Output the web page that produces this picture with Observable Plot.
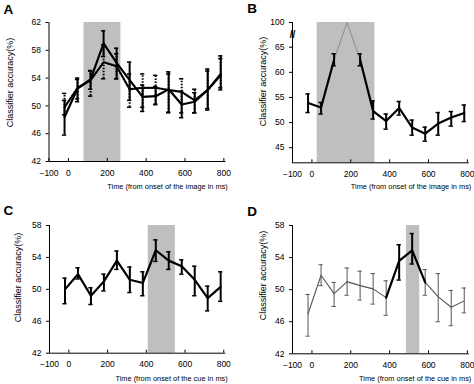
<!DOCTYPE html>
<html><head><meta charset="utf-8">
<script src="https://cdn.jsdelivr.net/npm/d3@7"></script>
<script src="https://cdn.jsdelivr.net/npm/@observablehq/plot@0.6"></script>
<style>
body{margin:0;background:#fff;}
#grid{display:grid;grid-template-columns:237px 237px;grid-template-rows:192px 192px;width:474px;height:384px;overflow:hidden;}
#grid svg{overflow:visible;display:block;}
</style></head><body><div id="grid"></div>
<script>
// time windows (ms), shared by all panels
const times = [-20, 47, 114, 181, 248, 315, 382, 449, 516, 583, 650, 717, 784];
const xTicks = [-100, 0, 200, 400, 600, 800];
const yLabel = "Classifier accuracy(%)";

// Panel A (image onset) – solid and dotted series
const aSolidMean = [48.4, 52.5, 53.8, 59.0, 56.2, 53.7, 51.3, 51.4, 52.4, 50.2, 50.6, 52.3, 54.6];
const aSolidHi   = [50.8, 54.0, 55.1, 60.8, 58.3, 56.3, 53.0, 52.8, 54.9, 52.1, 51.9, 55.3, 57.2];
const aSolidLo   = [45.8, 50.6, 52.4, 57.1, 53.9, 50.8, 49.2, 50.2, 49.1, 48.3, 49.0, 49.4, 52.3];
const aDotMean   = [49.8, 52.6, 53.7, 56.3, 55.7, 52.4, 52.6, 52.6, 52.3, 52.0, 50.8, 52.3, 54.4];
const aDotHi     = [51.8, 53.8, 55.0, 58.8, 57.5, 54.6, 54.6, 54.4, 54.6, 53.9, 52.4, 55.0, 56.8];
const aDotLo     = [48.7, 51.0, 51.4, 53.9, 53.9, 49.8, 49.8, 50.2, 49.0, 49.0, 49.0, 49.6, 52.6];
const aShade = [80, 270];
const aTicks = [42, 46, 50, 54, 58, 62];

// Panel B (image onset, broken axis)
const bMean = [53.9, 53.0, 62.5, 100, 62.5, 52.3, 50.3, 52.9, 49.0, 47.8, 49.8, 51.0, 51.9];
const bHi   = [55.7, 54.0, 63.7, null, 63.7, 54.3, 51.7, 54.2, 50.5, 49.1, 52.0, 52.2, 53.5];
const bLo   = [52.0, 51.7, 61.3, null, 61.3, 50.7, 48.7, 51.5, 47.5, 46.3, 47.5, 49.3, 50.2];
const bShade = [27, 324];
const bTicks = [45, 50, 55, 60, 65, 100];
const bBreak = 83;

// Panel C (cue onset)
const cMean = [50.0, 51.9, 49.2, 51.0, 53.6, 51.2, 50.8, 54.9, 53.6, 52.9, 51.2, 48.9, 50.3];
const cHi   = [51.4, 52.7, 50.2, 51.9, 54.8, 52.8, 52.2, 56.2, 54.7, 53.7, 52.9, 50.4, 52.2];
const cLo   = [48.2, 51.3, 48.1, 49.8, 52.5, 49.6, 49.2, 53.5, 52.5, 51.9, 49.2, 47.3, 48.5];
const cShade = [410, 550];
const cdTicks = [42, 46, 50, 54, 58];

// Panel D (cue onset)
const dMean = [47.0, 51.8, 49.5, 51.0, 50.5, 50.1, 49.0, 53.6, 54.9, 50.9, 49.1, 47.8, 48.6];
const dHi   = [49.4, 53.1, 50.9, 52.7, 52.3, 52.0, 51.1, 55.6, 57.0, 52.5, 52.0, 49.9, 50.2];
const dLo   = [44.2, 50.5, 47.9, 49.3, 48.7, 48.2, 46.8, 51.2, 53.2, 49.3, 46.0, 45.5, 47.1];
const dShade = [486, 555];

const rows = (m, lo, hi) => times.map((t, i) => ({t, mean: m[i], lo: lo[i], hi: hi[i]}));

function errorBars(data, {stroke = "black", strokeWidth = 2, capWidth = 1.5, dash = null} = {}) {
  return [
    Plot.ruleX(data, {x: "t", y1: "lo", y2: "hi", stroke, strokeWidth, strokeDasharray: dash}),
    Plot.ruleY(data, {y: "hi", x1: d => d.t - 11, x2: d => d.t + 11, stroke, strokeWidth: capWidth}),
    Plot.ruleY(data, {y: "lo", x1: d => d.t - 11, x2: d => d.t + 11, stroke, strokeWidth: capWidth})
  ];
}

function makePanel(o) {
  const W = 237, H = 192;
  const fh = H - o.mt - o.mb;
  const at = (X, Y) => ({frameAnchor: "top-left", dx: X - o.ml, dy: Y - o.mt});
  const y0 = o.yDomain[0], y1 = o.yDomain[o.yDomain.length - 1];
  return Plot.plot({
    width: W, height: H,
    marginLeft: o.ml, marginRight: o.mr, marginTop: o.mt, marginBottom: o.mb,
    style: {fontFamily: "'Liberation Sans', Arial, sans-serif", fontSize: "8.5px", color: "black", background: "white", overflow: "visible"},
    x: {domain: [-100, 810], label: null},
    y: Object.assign({type: "linear", domain: o.yDomain, label: null}, o.yRange ? {range: o.yRange} : {}),
    marks: [
      Plot.rect([o.shade], {x1: d => d[0], x2: d => d[1], y1: y0, y2: y1, fill: "#bfbfbf"}),
      Plot.ruleX([-100], {stroke: "black", strokeWidth: 1}),
      Plot.ruleY([y0], {stroke: "black", strokeWidth: 1}),
      Plot.tickX(xTicks, {x: d => d, insetTop: fh - 3, stroke: "black", strokeWidth: 1}),
      Plot.axisX({ticks: xTicks, tickSize: 0, tickPadding: 8, fontSize: 8.5, label: null}),
      Plot.axisY({ticks: o.yTicks, tickFormat: d => String(d), tickSize: 3, tickPadding: 5, fontSize: 8.5, label: null}),
      ...o.marks,
      Plot.text([o.letter], {...at(o.lx, o.ly), textAnchor: "start", lineAnchor: "middle", fontSize: 13.5, fontWeight: "bold"}),
      Plot.text([yLabel], {...at(o.ylx, o.yly), rotate: -90, textAnchor: "middle", lineAnchor: "middle", fontSize: 9}),
      Plot.text([o.xTitle], {...at(W - o.mr + 2, 186.5), textAnchor: "end", lineAnchor: "middle", fontSize: 7.4})
    ]
  });
}

const aS = rows(aSolidMean, aSolidLo, aSolidHi);
const aD = rows(aDotMean, aDotLo, aDotHi);
const bR = rows(bMean, bLo, bHi);
const cR = rows(cMean, cLo, cHi);
const dR = rows(dMean, dLo, dHi);

const panelA = makePanel({
  letter: "A", lx: 3, ly: 9, ylx: 9.5, yly: 82,
  ml: 48.5, mr: 11.7, mt: 22, mb: 31,
  yDomain: [42, 62], yTicks: aTicks, shade: aShade,
  xTitle: "Time (from onset of the image in ms)",
  marks: [
    ...errorBars(aD, {dash: "1.6,1.4", strokeWidth: 2}),
    Plot.line(aD, {x: "t", y: "mean", stroke: "black", strokeWidth: 2.2, strokeDasharray: "1.8,1.6"}),
    ...errorBars(aS, {strokeWidth: 2}),
    Plot.line(aS, {x: "t", y: "mean", stroke: "black", strokeWidth: 2.2})
  ]
});

const bOk = bR.filter(d => d.lo != null);
const panelB = makePanel({
  letter: "B", lx: 9.7, ly: 8.5, ylx: 25.3, yly: 81,
  ml: 55, mr: 5.2, mt: 22, mb: 29.7,
  yDomain: [42, 65, 100], yRange: [162.3, 46.7, 22], yTicks: bTicks, shade: bShade,
  xTitle: "Time (from onset of the image in ms)",
  marks: [
    Plot.line(bR.slice(2, 5), {x: "t", y: "mean", stroke: "#8a8a8a", strokeWidth: 1}),
    Plot.line(bR.slice(0, 3), {x: "t", y: "mean", stroke: "black", strokeWidth: 2.2}),
    Plot.line(bR.slice(4), {x: "t", y: "mean", stroke: "black", strokeWidth: 2.2}),
    ...errorBars(bOk, {strokeWidth: 2}),
    Plot.text(["//"], {x: -100, y: bBreak, fontSize: 10, fontWeight: "bold", fill: "black"})
  ]
});

const panelC = makePanel({
  letter: "C", lx: 3, ly: 18, ylx: 18, yly: 85,
  ml: 49, mr: 11.8, mt: 33, mb: 31.3,
  yDomain: [42, 58], yTicks: cdTicks, shade: cShade,
  xTitle: "Time (from onset of the cue in ms)",
  marks: [
    ...errorBars(cR, {strokeWidth: 2}),
    Plot.line(cR, {x: "t", y: "mean", stroke: "black", strokeWidth: 2.2})
  ]
});

const dThick = dR.slice(7, 9);
const dThin = dR.filter((d, i) => i !== 7 && i !== 8);
const panelD = makePanel({
  letter: "D", lx: 9.7, ly: 19, ylx: 25.3, yly: 83,
  ml: 55, mr: 5.2, mt: 33, mb: 30.7,
  yDomain: [42, 58], yTicks: cdTicks, shade: dShade,
  xTitle: "Time (from onset of the cue in ms)",
  marks: [
    ...errorBars(dThin, {stroke: "#555", strokeWidth: 1, capWidth: 1}),
    Plot.line(dR, {x: "t", y: "mean", stroke: "#555", strokeWidth: 1.1}),
    Plot.line(dR.slice(6, 10), {x: "t", y: "mean", stroke: "black", strokeWidth: 2.2}),
    ...errorBars(dThick, {strokeWidth: 2})
  ]
});

const grid = document.getElementById("grid");
[panelA, panelB, panelC, panelD].forEach(p => grid.appendChild(p));
</script>
</body></html>
